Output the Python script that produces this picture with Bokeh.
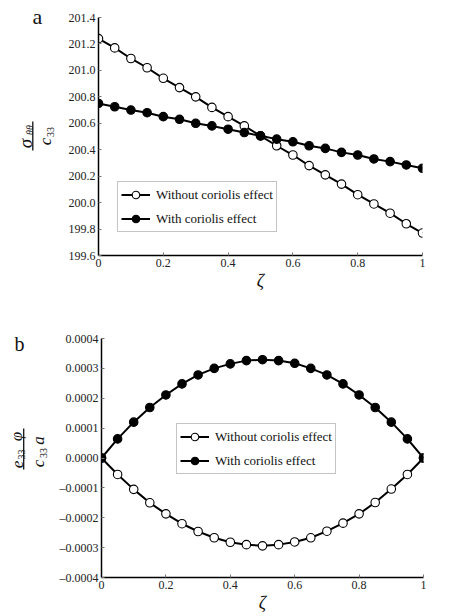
from math import pi

from bokeh.core.properties import value
from bokeh.embed import file_html
from bokeh.layouts import column, row
from bokeh.models import FixedTicker, Legend, LegendItem, Range1d
from bokeh.plotting import figure
from bokeh.resources import INLINE

# Dimensionless thickness coordinate
zeta = [0.00, 0.05, 0.10, 0.15, 0.20, 0.25, 0.30, 0.35, 0.40, 0.45, 0.50,
        0.55, 0.60, 0.65, 0.70, 0.75, 0.80, 0.85, 0.90, 0.95, 1.00]

# (a) hoop stress sigma_theta_theta / c33
stress_without = [201.24, 201.17, 201.09, 201.02, 200.94, 200.87, 200.80, 200.72,
                  200.65, 200.58, 200.505, 200.43, 200.36, 200.28, 200.21, 200.14,
                  200.06, 199.99, 199.92, 199.84, 199.77]
stress_with = [200.75, 200.725, 200.70, 200.68, 200.65, 200.63, 200.60, 200.58,
               200.555, 200.53, 200.505, 200.48, 200.46, 200.43, 200.41, 200.38,
               200.36, 200.33, 200.31, 200.285, 200.26]

# (b) electric potential e33*phi / (c33*a)
phi_without = [0.0, -0.000055, -0.000105, -0.000150, -0.000187, -0.000220, -0.000246,
               -0.000267, -0.000282, -0.000290, -0.000294, -0.000290, -0.000281,
               -0.000267, -0.000245, -0.000218, -0.000187, -0.000149, -0.000104,
               -0.000055, 0.0]
phi_with = [0.0, 0.000064, 0.000120, 0.000169, 0.000211, 0.000248, 0.000278, 0.000300,
            0.000315, 0.000326, 0.000329, 0.000326, 0.000317, 0.000300, 0.000278,
            0.000248, 0.000211, 0.000169, 0.000120, 0.000064, 0.0]

x_ticks = [0, 0.2, 0.4, 0.6, 0.8, 1.0]
x_tick_labels = ["0", "0.2", "0.4", "0.6", "0.8", "1"]

stress_ticks = [199.6, 199.8, 200.0, 200.2, 200.4, 200.6, 200.8, 201.0, 201.2, 201.4]
stress_tick_labels = ["199.6", "199.8", "200.0", "200.2", "200.4", "200.6",
                      "200.8", "201.0", "201.2", "201.4"]

phi_ticks = [-0.0004, -0.0003, -0.0002, -0.0001, 0.0, 0.0001, 0.0002, 0.0003, 0.0004]
phi_tick_labels = ["\u20130.0004", "\u20130.0003", "\u20130.0002", "\u20130.0001",
                   "0.0000", "0.0001", "0.0002", "0.0003", "0.0004"]

series_names = ["Without coriolis effect", "With coriolis effect"]

SERIF = "Liberation Serif"
LABEL_W = 56      # width of the strip holding the rotated y-axis quantity
PLOT_W = 473 - LABEL_W
ROW_H = 308


def make_panel(top, bottom, right, y_range, y_ticks, y_labels, series, legend_xy):
    p = figure(width=PLOT_W, height=ROW_H, output_backend="svg", toolbar_location=None,
               x_range=Range1d(0, 1), y_range=Range1d(*y_range),
               min_border_left=98 - LABEL_W, min_border_right=right,
               min_border_top=top, min_border_bottom=bottom, frame_align=False)
    p.outline_line_color = None
    p.grid.visible = False
    p.background_fill_color = "white"
    p.border_fill_color = "white"

    for ax, ticks, labels in ((p.xaxis[0], x_ticks, x_tick_labels),
                              (p.yaxis[0], y_ticks, y_labels)):
        ax.ticker = FixedTicker(ticks=ticks)
        ax.major_label_overrides = {t: l for t, l in zip(ticks, labels)}
        ax.axis_line_color = "black"
        ax.axis_line_width = 1.5
        ax.major_tick_in = 3
        ax.major_tick_out = 0
        ax.major_tick_line_color = "#777777"
        ax.minor_tick_line_color = None
        ax.major_label_text_font = SERIF
        ax.major_label_text_font_size = "12px"
        ax.major_label_text_color = "#222222"
        ax.major_label_standoff = 3

    xa = p.xaxis[0]
    xa.axis_label = "\u03b6"
    xa.axis_label_text_font = SERIF
    xa.axis_label_text_font_style = "italic"
    xa.axis_label_text_font_size = "18px"
    xa.axis_label_text_color = "#111111"
    xa.axis_label_standoff = 1

    items = []
    for name, ys, fill in zip(series_names, series, ["white", "black"]):
        ln = p.line(zeta, ys, line_color="black", line_width=2)
        sc = p.scatter(zeta, ys, size=8.5, marker="circle", line_color="black",
                       line_width=1.1, fill_color=fill)
        items.append(LegendItem(label=name, renderers=[ln, sc]))

    legend = Legend(items=items, location=legend_xy, margin=0, padding=3,
                    spacing=5, glyph_width=29, glyph_height=19, label_height=19,
                    label_standoff=6, label_text_font=SERIF,
                    label_text_font_size="13px", label_text_color="#111111",
                    border_line_color="#8a8a8a", border_line_width=1,
                    background_fill_color="white", background_fill_alpha=1)
    p.add_layout(legend)
    return p


def make_label_strip():
    # pixel-space strip: x to the right, y upward from the row's bottom edge
    s = figure(width=LABEL_W, height=ROW_H, output_backend="svg", toolbar_location=None,
               x_range=Range1d(0, LABEL_W), y_range=Range1d(0, ROW_H),
               min_border=0, min_border_left=0, min_border_right=0,
               min_border_top=0, min_border_bottom=0, frame_align=False)
    s.axis.visible = False
    s.grid.visible = False
    s.outline_line_color = None
    s.background_fill_color = "white"
    s.border_fill_color = "white"
    return s


def put_text(s, text, x, y_from_top, size, italic=True, rotate=True):
    s.text([x], [ROW_H - y_from_top], text=[text], text_font=value(SERIF),
           text_font_size=f"{size}px",
           text_font_style="italic" if italic else "normal",
           text_align="center", text_baseline="middle", text_color="#111111",
           angle=pi / 2 if rotate else 0)


def put_bar(s, x, y0, y1):
    s.segment([x], [ROW_H - y0], [x], [ROW_H - y1], line_color="#111111",
              line_width=1.3)


# ---- panel (a) ----
la = make_label_strip()
put_text(la, "a", 37, 16, 22, italic=False, rotate=False)
put_text(la, "\u03c3", 25, 143, 19)
put_text(la, "\u03b8\u03b8", 29, 129.5, 10)
put_bar(la, 32.3, 121, 150)
put_text(la, "c", 45, 141, 17)
put_text(la, "33", 50, 131.5, 10, italic=False)
pa = make_panel(17, 53, 51, (199.6, 201.4), stress_ticks, stress_tick_labels,
                [stress_without, stress_with], (19, 23))

# ---- panel (b) ----
OFF = ROW_H
lb = make_label_strip()
put_text(lb, "b", 19, 343 - OFF, 20, italic=False, rotate=False)
put_text(lb, "e", 16.5, 464 - OFF, 17)
put_text(lb, "33", 20.5, 454 - OFF, 10, italic=False)
put_text(lb, "\u03c6", 16, 436 - OFF, 17)
put_bar(lb, 23.2, 428 - OFF, 469 - OFF)
put_text(lb, "c", 37.5, 463 - OFF, 17)
put_text(lb, "33", 42.5, 452.5 - OFF, 10, italic=False)
put_text(lb, "a", 38, 440 - OFF, 17)
pb = make_panel(30, 39, 50, (-0.0004, 0.0004), phi_ticks, phi_tick_labels,
                [phi_without, phi_with], (75, 103))

layout = column(row(la, pa, spacing=0), row(lb, pb, spacing=0), spacing=0)
open("out.html", "w").write(file_html(layout, INLINE))
